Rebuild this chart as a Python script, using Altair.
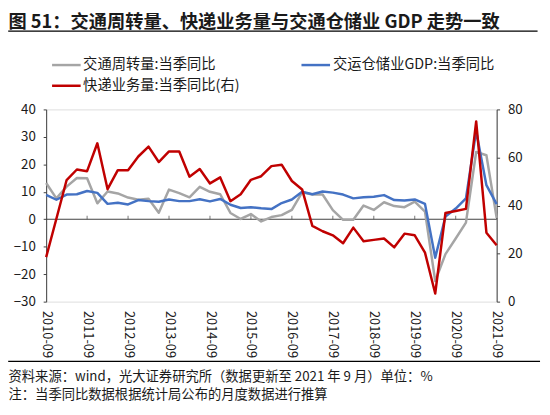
import altair as alt
import pandas as pd

# ---------------- data ----------------
quarters = [
    "2010-09", "2010-12",
    "2011-03", "2011-06", "2011-09", "2011-12",
    "2012-03", "2012-06", "2012-09", "2012-12",
    "2013-03", "2013-06", "2013-09", "2013-12",
    "2014-03", "2014-06", "2014-09", "2014-12",
    "2015-03", "2015-06", "2015-09", "2015-12",
    "2016-03", "2016-06", "2016-09", "2016-12",
    "2017-03", "2017-06", "2017-09", "2017-12",
    "2018-03", "2018-06", "2018-09", "2018-12",
    "2019-03", "2019-06", "2019-09", "2019-12",
    "2020-03", "2020-06", "2020-09", "2020-12",
    "2021-03", "2021-06", "2021-09",
]

# 交通周转量:当季同比 (left axis)
turnover = [
    13.2, 7.6, 11.9, 15.0, 14.9, 5.8, 10.1, 9.4, 7.9, 7.1,
    7.5, 2.4, 10.8, 9.5, 8.0, 11.8, 10.0, 9.1, 2.3, 0.1,
    1.9, -0.8, 0.8, 1.5, 3.4, 9.8, 9.0, 9.0, 3.3, -0.2,
    -0.2, 5.0, 3.4, 6.2, 4.8, 4.4, 6.4, 2.8, -22.5, -12.7,
    -7.0, -1.2, 24.5, 23.3, 0.5,
]

# 交运仓储业GDP:当季同比 (left axis)
gdp = [
    8.9, 7.1, 9.0, 9.1, 10.3, 9.6, 5.6, 6.0, 5.4, 7.0,
    6.6, 6.4, 7.2, 6.6, 6.6, 7.3, 6.5, 7.4, 5.3, 4.1,
    4.4, 4.0, 3.7, 5.9, 7.2, 10.0, 9.1, 10.1, 9.7, 9.0,
    7.6, 8.0, 8.2, 8.8, 7.0, 6.8, 7.2, 5.6, -14.0, 1.0,
    3.9, 7.6, 32.1, 12.4, 5.5,
]

# 快递业务量:当季同比(右) (right axis)
express = [
    18.5, 34.5, 50.6, 55.0, 54.3, 65.9, 46.8, 54.7, 54.7, 60.4,
    64.5, 58.1, 62.5, 62.5, 52.0, 55.2, 49.2, 51.7, 41.8, 44.7,
    50.7, 52.2, 56.4, 57.0, 50.2, 46.7, 31.5, 29.3, 27.6, 24.3,
    30.8, 25.1, 25.7, 26.3, 22.6, 28.3, 27.6, 20.4, 3.4, 36.9,
    37.7, 38.6, 75.0, 28.7, 23.5,
]

year_labels = [q for q in quarters if q.endswith("-09")]

left_ticks = [-30, -20, -10, 0, 10, 20, 30, 40]
right_ticks = [0, 20, 40, 60, 80]

title_text = "图 51：交通周转量、快递业务量与交通仓储业 GDP 走势一致"
legend_labels = ["交通周转量:当季同比", "交运仓储业GDP:当季同比", "快递业务量:当季同比(右)"]
note1 = "资料来源：wind，光大证券研究所（数据更新至 2021 年 9 月）单位：%"
note2 = "注：当季同比数据根据统计局公布的月度数据进行推算"

GREY = "#A5A5A5"
BLUE = "#4472C4"
RED = "#C00000"
AXIS = "#404040"
TEXT = "#1a1a1a"
FONT = "Noto Sans CJK SC"

df = pd.DataFrame({"q": quarters, "turnover": turnover, "gdp": gdp, "express": express})
zero_df = pd.DataFrame({"z": [0]})
years_df = pd.DataFrame({"q": year_labels[1:], "z": [0] * (len(year_labels) - 1)})
one = pd.DataFrame({"k": [0]})

# ---------------- scales / axes ----------------
x_enc = alt.X(
    "q:O",
    scale=alt.Scale(type="point", domain=quarters, padding=0),
    axis=alt.Axis(
        values=year_labels, labelAngle=90, ticks=False, domain=False, tickSize=0,
        labelPadding=9, labelFontSize=13, labelColor=TEXT, labelFont=FONT,
        labelOverlap=False, title=None, grid=False,
    ),
)

left_scale = alt.Scale(domain=[-30, 40], nice=False, zero=False)
left_axis = alt.Axis(
    orient="left", values=left_ticks, title=None, grid=False,
    domainColor=AXIS, tickColor=AXIS, tickSize=3, labelPadding=8,
    labelFontSize=13.5, labelColor=TEXT, labelFont=FONT, labelOverlap=False,
)
right_scale = alt.Scale(domain=[0, 80], nice=False, zero=False)
right_axis = alt.Axis(
    orient="right", values=right_ticks, title=None, grid=False,
    domainColor=AXIS, tickColor=AXIS, tickSize=3, labelPadding=8,
    labelFontSize=13.5, labelColor=TEXT, labelFont=FONT, labelOverlap=False,
)

line_kw = dict(strokeWidth=2.5, strokeJoin="round")

zero_line = alt.Chart(zero_df).mark_rule(color=AXIS, strokeWidth=1).encode(
    y=alt.Y("z:Q", scale=left_scale, axis=left_axis)
)
year_ticks = alt.Chart(years_df).mark_tick(
    color=AXIS, orient="vertical", size=3.5, thickness=1, yOffset=-1.75
).encode(
    x=x_enc,
    y=alt.Y("z:Q", scale=left_scale, axis=left_axis),
)
grey_line = alt.Chart(df).mark_line(color=GREY, **line_kw).encode(
    x=x_enc, y=alt.Y("turnover:Q", scale=left_scale, axis=left_axis)
)
blue_line = alt.Chart(df).mark_line(color=BLUE, **line_kw).encode(
    x=x_enc, y=alt.Y("gdp:Q", scale=left_scale, axis=left_axis)
)
left_layer = alt.layer(zero_line, year_ticks, grey_line, blue_line)

red_line = alt.Chart(df).mark_line(color=RED, **line_kw).encode(
    x=x_enc, y=alt.Y("express:Q", scale=right_scale, axis=right_axis)
)

# ---------------- decorations (pixel positions relative to plot origin) ----------------
def text_layer(txt, x, y, size, weight="normal"):
    return alt.Chart(one).mark_text(
        text=txt, align="left", baseline="middle", font=FONT,
        fontSize=size, fontWeight=weight, color=TEXT,
    ).encode(x=alt.value(x), y=alt.value(y))


def hline(x1, x2, y, color, width):
    return alt.Chart(one).mark_rule(color=color, strokeWidth=width).encode(
        x=alt.value(x1), x2=alt.value(x2), y=alt.value(y)
    )


decor = [
    text_layer(title_text, -38.2, -89, 18.5, "bold"),
    hline(-38.5, 498.5, -79.5, "#000000", 1.3),
    hline(6, 35, -45, GREY, 2.5),
    text_layer(legend_labels[0], 37.5, -45, 14.5),
    hline(259, 288, -45, BLUE, 2.5),
    text_layer(legend_labels[1], 291, -45, 14.5),
    hline(6, 35, -24, RED, 2.5),
    text_layer(legend_labels[2], 37.5, -24, 14.5),
    hline(-38.5, 501, 255.5, "#000000", 1.3),
    text_layer(note1, -38.2, 271, 13.5),
    text_layer(note2, -38.2, 290, 13.5),
]

chart = (
    alt.layer(left_layer, red_line, *decor)
    .resolve_scale(y="independent")
    .properties(
        width=457,
        height=195,
        autosize=alt.AutoSizeParams(type="none"),
        padding={"left": 38.7, "top": 100, "right": 46, "bottom": 104},
        background="white",
    )
    .configure_view(stroke=None)
    .configure_axis(labelOverlap=False)
    .configure(font=FONT)
)

chart.save("out.html", embed_options={"renderer": "svg", "actions": False})
